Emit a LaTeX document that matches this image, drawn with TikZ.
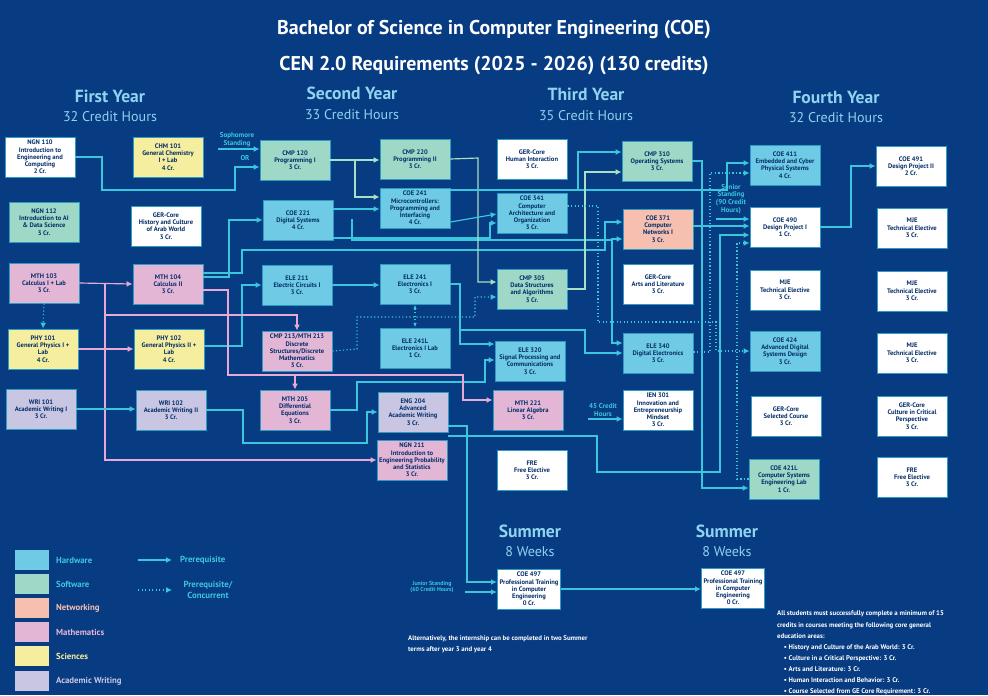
\documentclass[tikz,border=0pt]{standalone}
\usepackage{fontspec}
\setmainfont{PT Sans}
\usetikzlibrary{arrows.meta}
\definecolor{bgC}{HTML}{073B82}
\definecolor{hwC}{HTML}{6FCBE5}
\definecolor{swC}{HTML}{9FD8C6}
\definecolor{nwC}{HTML}{F6BFAF}
\definecolor{mtC}{HTML}{E4B6D6}
\definecolor{scC}{HTML}{F5EE9F}
\definecolor{wrC}{HTML}{C9C6E4}
\definecolor{arrC}{HTML}{3CC6DE}
\definecolor{pkC}{HTML}{E9A9D6}
\definecolor{grC}{HTML}{A8E0C4}
\definecolor{hdC}{HTML}{8FD3EE}
\newcommand\crsfont{\fontsize{5.6}{6.2}\selectfont\bfseries}
\begin{document}
\begin{tikzpicture}
[
x=0.03cm,y=-0.03cm,
course/.style={draw=arrC!70!bgC,line width=0.8pt,minimum width=2.1cm,minimum height=1.2cm,
  align=center,font=\crsfont,inner sep=1pt,text=bgC!80!black},
hw/.style={course,fill=hwC}, sw/.style={course,fill=swC}, nw/.style={course,fill=nwC},
mt/.style={course,fill=mtC}, sc/.style={course,fill=scC}, wr/.style={course,fill=wrC},
wt/.style={course,fill=white},
pre/.style={-{Latex[length=5pt,width=5pt]},line width=1pt,draw=arrC},
conc/.style={pre,dotted},
mpre/.style={pre,draw=pkC},
spre/.style={pre,draw=grC},
note/.style={text=arrC,font=\fontsize{6}{6.5}\selectfont\bfseries,align=center},
yr/.style={text=hdC,font=\fontsize{15}{16}\selectfont\bfseries},
hrs/.style={text=hdC,font=\fontsize{12}{13}\selectfont},
leg/.style={minimum width=1cm,minimum height=0.62cm,inner sep=0pt},
]
\fill[bgC] (0,0) rectangle (988,695);
\useasboundingbox (0,0) rectangle (988,695);

%Titles
\node[text=white,font=\fontsize{17}{18}\selectfont\bfseries] (t1) at (494,30) {Bachelor of Science in Computer Engineering (COE)};
\node[text=white,font=\fontsize{17}{18}\selectfont\bfseries] (t2) at (494,66) {CEN 2.0 Requirements (2025 - 2026) (130 credits)};
\node[yr] (y1) at (110,96) {First Year};   \node[hrs] (h1) at (110,117) {32 Credit Hours};
\node[yr] (y2) at (352,93) {Second Year};  \node[hrs] (h2) at (352,115) {33 Credit Hours};
\node[yr] (y3) at (586,94) {Third Year};   \node[hrs] (h3) at (586,116) {35 Credit Hours};
\node[yr] (y4) at (836,97) {Fourth Year};  \node[hrs] (h4) at (836,118) {32 Credit Hours};
\node[yr] (s1) at (530,531) {Summer}; \node[hrs] (w1) at (530,552) {8 Weeks};
\node[yr] (s2) at (727,531) {Summer}; \node[hrs] (w2) at (727,552) {8 Weeks};

%First year
\node[wt] (ngn110) at (40,157) {NGN 110\\Introduction to\\Engineering and\\Computing\\2 Cr.};
\node[sw] (ngn112) at (44,222) {NGN 112\\Introduction to AI\\\& Data Science\\3 Cr.};
\node[mt] (mth103) at (44,283) {MTH 103\\Calculus I + Lab\\3 Cr.};
\node[sc] (phy101) at (43,349) {PHY 101\\General Physics I +\\Lab\\4 Cr.};
\node[wr] (wri101) at (41,409) {WRI 101\\Academic Writing I\\3 Cr.};
\node[sc] (chm101) at (168,157) {CHM 101\\General Chemistry\\I + Lab\\4 Cr.};
\node[wt] (gerhist) at (166,226) {GER-Core\\History and Culture\\of Arab World\\3 Cr.};
\node[mt] (mth104) at (168,284) {MTH 104\\Calculus II\\3 Cr.};
\node[sc] (phy102) at (169,349) {PHY 102\\General Physics II +\\Lab\\4 Cr.};
\node[wr] (wri102) at (171,410) {WRI 102\\Academic Writing II\\3 Cr.};
%Second year
\node[sw] (cmp120) at (295,160) {CMP 120\\Programming I\\3 Cr.};
\node[hw] (coe221) at (298,220) {COE 221\\Digital Systems\\4 Cr.};
\node[hw] (ele211) at (297,285) {ELE 211\\Electric Circuits I\\3 Cr.};
\node[mt] (cmp213) at (297,351) {CMP 213/MTH 213\\Discrete\\Structures/Discrete\\Mathematics\\3 Cr.};
\node[mt] (mth205) at (295,410) {MTH 205\\Differential\\Equations\\3 Cr.};
\node[sw] (cmp220) at (415,159) {CMP 220\\Programming II\\3 Cr.};
\node[hw] (coe241) at (415,208) {COE 241\\Microcontrollers:\\Programming and\\Interfacing\\4 Cr.};
\node[hw] (ele241) at (415,284) {ELE 241\\Electronics I\\3 Cr.};
\node[hw] (ele241l) at (415,348) {ELE 241L\\Electronics I Lab\\1 Cr.};
\node[wr] (eng204) at (413,412) {ENG 204\\Advanced\\Academic Writing\\3 Cr.};
\node[mt] (ngn211) at (412,460) {NGN 211\\Introduction to\\Engineering Probability\\and Statistics\\3 Cr.};
%Third year
\node[wt] (gerhum) at (532,159) {GER-Core\\Human Interaction\\3 Cr.};
\node[hw] (coe341) at (532,213) {COE 341\\Computer\\Architecture and\\Organization\\3 Cr.};
\node[sw] (cmp305) at (532,289) {CMP 305\\Data Structures\\and Algorithms\\3 Cr.};
\node[hw] (ele320) at (530,361) {ELE 320\\Signal Processing and\\Communications\\3 Cr.};
\node[mt] (mth221) at (528,410) {MTH 221\\Linear Algebra\\3 Cr.};
\node[wt] (fre1) at (532,470) {FRE\\Free Elective\\3 Cr.};
\node[sw] (cmp310) at (657,161) {CMP 310\\Operating Systems\\3 Cr.};
\node[nw] (coe371) at (658,229) {COE 371\\Computer\\Networks I\\3 Cr.};
\node[wt] (gerarts) at (658,284) {GER-Core\\Arts and Literature\\3 Cr.};
\node[hw] (ele340) at (658,353) {ELE 340\\Digital Electronics\\3 Cr.};
\node[wt] (ien301) at (658,410) {IEN 301\\Innovation and\\Entrepreneurship\\Mindset\\3 Cr.};
%Fourth year
\node[hw] (coe411) at (785,165) {COE 411\\Embedded and Cyber\\Physical Systems\\4 Cr.};
\node[wt] (coe490) at (785,227) {COE 490\\Design Project I\\1 Cr.};
\node[wt] (mje1) at (785,290) {MJE\\Technical Elective\\3 Cr.};
\node[hw] (coe424) at (785,351) {COE 424\\Advanced Digital\\Systems Design\\3 Cr.};
\node[wt] (gersel) at (786,416) {GER-Core\\Selected Course\\3 Cr.};
\node[sw] (coe421l) at (784,479) {COE 421L\\Computer Systems\\Engineering Lab\\1 Cr.};
\node[wt] (coe491) at (911,166) {COE 491\\Design Project II\\2 Cr.};
\node[wt] (mje2) at (912,228) {MJE\\Technical Elective\\3 Cr.};
\node[wt] (mje3) at (912,291) {MJE\\Technical Elective\\3 Cr.};
\node[wt] (mje4) at (912,353) {MJE\\Technical Elective\\3 Cr.};
\node[wt] (gercul) at (912,416) {GER-Core\\Culture in Critical\\Perspective\\3 Cr.};
\node[wt] (fre2) at (912,477) {FRE\\Free Elective\\3 Cr.};
%Summer
\node[wt,minimum width=1.9cm] (coe497a) at (529,589) {COE 497\\Professional Training\\in Computer\\Engineering\\0 Cr.};
\node[wt,minimum width=1.9cm] (coe497b) at (733,588) {COE 497\\Professional Training\\in Computer\\Engineering\\0 Cr.};

%Side notes
\node[note] (soph) at (237,140) {Sophomore\\Standing};
\coordinate (sophs) at (218,149);
\node[note] (or) at (245,158) {OR};
\node[note] (senior) at (731,199) {Senior\\Standing\\(90 Credit\\Hours)};
\coordinate (sens) at (716,219);
\node[note] (c45) at (603,410) {45 Credit\\Hours};
\coordinate (c45s) at (588,419);
\node[note,font=\fontsize{5}{5.5}\selectfont\bfseries] (jun) at (432,587) {Junior Standing\\(60 Credit Hours)};
\coordinate (juns) at (465,592);

%Prerequisites
\draw[pre] (ngn110.east |- 0,157) -- (102,157) -- (102,190) -- (235,190) |- (cmp120.west |- 0,167);
\draw[pre] (sophs) -- (cmp120.west |- sophs);
\draw[spre] (cmp120.east) -- (cmp220.west |- cmp120.east);
\draw[spre] (355,160) |- (coe241.west |- 0,197);
\draw[pre] (coe221.east |- 0,209) -- (coe241.west |- 0,209);
\draw[pre] (coe221.east |- 0,238) -- (490,238) |- (coe341.west |- 0,223);
\draw[pre] (mth104.east |- 0,277) -- (229,277) |- (coe221.west);
\draw[pre] (mth104.east |- 0,273) -- (242,273) -- (242,250) -- (605,250) |- (coe371.west |- 0,222);
\draw[pre] (phy102.east |- 0,346) -- (242,346) |- (ele211.west);
\draw[pre] (ele211.east) -- (ele241.west |- ele211.east);
\draw[pre] (352,219) -- (352,222) -- (352,240) -- (612,240) |- (coe371.west |- 0,239);
\draw[pre] (612,240) |- (ele340.west |- 0,343);
\draw[spre] (cmp220.east) -- (478,158) |- (cmp305.west |- 0,282);
\draw[pre] (coe241.east |- 0,190) -- (578,190) |- (cmp310.west |- 0,152);
\draw[pre] (coe241.east |- 0,222) -- (coe341.west |- 0,214);
\draw[pre] (578,190) -- (727,190) |- (coe411.west |- 0,163);
\draw[pre] (ele241.east) -- (460,284) |- (ele320.west |- 0,344);
\draw[pre] (460,300) -- (460,330) -- (585,330) |- (ele340.west |- 0,353);
\draw[conc,{Latex[length=4pt]}-{Latex[length=4pt]}] (ele241.south) -- (ele241l.north);
\draw[conc] (cmp213.east) -- (357,349) |- (475,317) |- (cmp305.west |- 0,297);
\draw[spre] (cmp305.east) -- (585,289) |- (cmp310.west |- 0,172);
\draw[conc] (coe341.east |- 0,206) -- (598,206) |- (716,322) |- (coe424.west);
\draw[pre] (cmp310.east) -- (702,161) |- (coe421l.west |- 0,488);
\draw[pre] (coe371.east |- 0,226) -- (coe490.west |- 0,226);
\draw[conc] (ele340.east |- 0,352) -- (710,352) |- (coe411.west |- 0,173);
\draw[pre] (eng204.east |- 0,436) -- (597,436) -- (597,472) -- (720,472) |- (coe490.west |- 0,235);
\draw[conc] (coe421l.west |- 0,479) -- (737,479) |- (coe490.west |- 0,243);
\draw[pre] (coe490.east) -- (851,227) |- (coe491.west);
\draw[pre] (sens) -- (coe490.west |- sens);
\draw[pre] (c45s) -- (ien301.west |- c45s);
\draw[pre] (mth205.east) -- (357,410) |- (485,382) |- (ele320.west |- 0,360);
\draw[pre] (eng204.east |- 0,426) -- (467,426) |- (coe497a.west |- 0,582);
\draw[pre] (juns) -- (coe497a.west |- juns);
\draw[pre] (coe497a.east) -- (coe497b.west |- coe497a.east);
%Maths and sciences
\draw[mpre] (mth103.east) -- (mth104.west);
\draw[conc] (mth103.south) -- (phy101.north);
\draw[mpre] (phy101.east) -- (phy102.west |- phy101.east);
\draw[mpre] (105,283) |- (297,315) -- (cmp213.north);
\draw[mpre] (105,283) |- (ngn211.west);
\draw[mpre] (mth104.east |- 0,290) -- (228,290) |- (463,375) |- (mth221.west |- 0,400);
\draw[mpre] (295,375) -- (mth205.north);
\draw[pre] (wri101.east) -- (wri102.west |- wri101.east);
\draw[pre] (wri102.east) -- (243,410) |- (367,443) |- (eng204.west);

%Legend
\foreach \c/\t/\yy/\tc in {hwC/Hardware/560/arrC, swC/Software/584/arrC, nwC/Networking/608/nwC,
  mtC/Mathematics/632/mtC, scC/Sciences/656/scC, wrC/Academic Writing/681/wrC}{
  \node[leg,fill=\c] (l\yy) at (32,\yy) {};
  \node[anchor=west,text=\tc,font=\fontsize{7.5}{8}\selectfont\bfseries] (lt\yy) at (52,\yy) {\t};
}
\coordinate (la) at (138,560); \coordinate (lb) at (172,560);
\draw[pre] (la) -- (lb);
\node[note,anchor=west,font=\fontsize{7.5}{8}\selectfont\bfseries] (lpre) at (176,560) {Prerequisite};
\coordinate (lc) at (138,590); \coordinate (ld) at (172,590);
\draw[conc] (lc) -- (ld);
\node[note,font=\fontsize{7.5}{9}\selectfont\bfseries] (lcon) at (208,590) {Prerequisite/\\Concurrent};

%Notes
\node[anchor=north west,text=white,align=left,font=\fontsize{5.8}{9.5}\selectfont\bfseries] (alt) at (404,631)
  {Alternatively, the internship can be completed in two Summer\\terms after year 3 and year 4};
\node[anchor=north west,text=white,align=left,font=\fontsize{5.8}{9.5}\selectfont\bfseries] (gen) at (773,607)
  {All students must successfully complete a minimum of 15\\credits in courses meeting the following core general\\education areas:\\
  \quad\textbullet\ History and Culture of the Arab World: 3 Cr.\\
  \quad\textbullet\ Culture in a Critical Perspective: 3 Cr.\\
  \quad\textbullet\ Arts and Literature: 3 Cr.\\
  \quad\textbullet\ Human Interaction and Behavior: 3 Cr.\\
  \quad\textbullet\ Course Selected from GE Core Requirement: 3 Cr.};
\end{tikzpicture}
\end{document}
